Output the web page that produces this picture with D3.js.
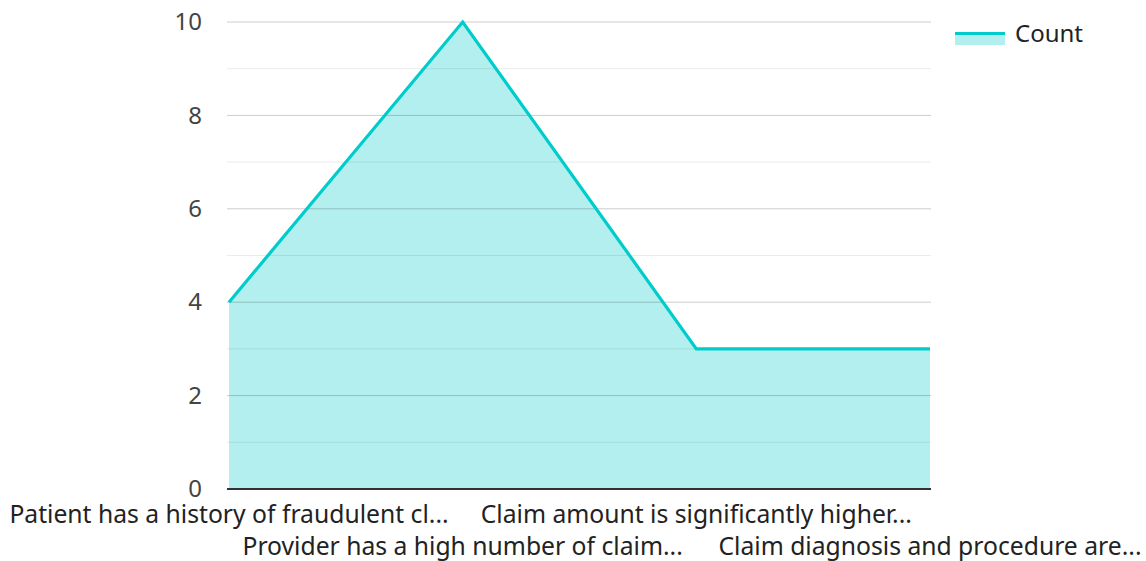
<!DOCTYPE html>
<html>
<head>
<meta charset="utf-8">
<script src="https://cdn.jsdelivr.net/npm/d3@7"></script>
<style>
  html, body { margin: 0; padding: 0; background: #fff; }
  svg { display: block; font-family: "Noto Sans", "Open Sans", sans-serif; }
</style>
</head>
<body>
<svg id="chart" width="1146" height="561"></svg>
<script>
// Fraud indicator counts
const categories = [
  "Patient has a history of fraudulent cl...",
  "Provider has a high number of claim...",
  "Claim amount is significantly higher...",
  "Claim diagnosis and procedure are..."
];
const counts = [4, 10, 3, 3];
const yTicks = [0, 2, 4, 6, 8, 10];
const yMinorTicks = [1, 3, 5, 7, 9];
const seriesName = "Count";

const lineColor = "#00cccc";
const fillColor = "#b2efee";

const svg = d3.select("#chart");
const plot = { left: 229, right: 930, top: 22, bottom: 489 };

const x = d3.scalePoint().domain(categories).range([plot.left, plot.right]);
const y = d3.scaleLinear().domain([0, 10]).range([plot.bottom, plot.top]);

const data = categories.map((c, i) => ({ c, v: counts[i] }));

// Area fill
svg.append("path")
  .datum(data)
  .attr("fill", fillColor)
  .attr("d", d3.area().x(d => x(d.c)).y0(y(0)).y1(d => y(d.v)));

// Gridlines (drawn over the translucent fill)
svg.append("g").selectAll("line").data(yMinorTicks).join("line")
  .attr("x1", plot.left - 2).attr("x2", plot.right + 1)
  .attr("y1", d => y(d)).attr("y2", d => y(d))
  .attr("stroke", "#000").attr("stroke-opacity", 0.08).attr("stroke-width", 1);
svg.append("g").selectAll("line").data(yTicks.filter(d => d > 0)).join("line")
  .attr("x1", plot.left - 2).attr("x2", plot.right + 1)
  .attr("y1", d => y(d)).attr("y2", d => y(d))
  .attr("stroke", "#000").attr("stroke-opacity", 0.2).attr("stroke-width", 1);

// Line
svg.append("path")
  .datum(data)
  .attr("fill", "none")
  .attr("stroke", lineColor)
  .attr("stroke-width", 3.2)
  .attr("stroke-linejoin", "miter")
  .attr("d", d3.line().x(d => x(d.c)).y(d => y(d.v)));

// Baseline axis
svg.append("line")
  .attr("x1", plot.left - 2).attr("x2", plot.right + 1)
  .attr("y1", y(0)).attr("y2", y(0))
  .attr("stroke", "#333").attr("stroke-width", 2);

// Y tick labels
const yAxis = d3.axisLeft(y).tickValues(yTicks).tickSize(0).tickPadding(27);
const yg = svg.append("g").attr("transform", `translate(${plot.left},0)`).call(yAxis);
yg.select(".domain").remove();
yg.attr("font-size", 24).attr("font-family", "'Noto Sans', sans-serif");
yg.selectAll("text").attr("fill", "#444");

// X labels, staggered in two rows
const xg = svg.append("g");
xg.selectAll("text").data(categories).join("text")
  .attr("x", d => x(d))
  .attr("y", (d, i) => i % 2 === 0 ? 523 : 555)
  .attr("text-anchor", "middle")
  .attr("font-size", 24.7)
  .attr("fill", "#222")
  .text(d => d);

// Legend
const lg = svg.append("g").attr("transform", "translate(955,32)");
lg.append("rect").attr("x", 0).attr("y", 0).attr("width", 50).attr("height", 13).attr("fill", fillColor);
lg.append("rect").attr("x", 0).attr("y", 0).attr("width", 50).attr("height", 3).attr("fill", lineColor);
lg.append("text").attr("x", 60).attr("y", 10).attr("font-size", 24).attr("fill", "#222").text(seriesName);
</script>
</body>
</html>
